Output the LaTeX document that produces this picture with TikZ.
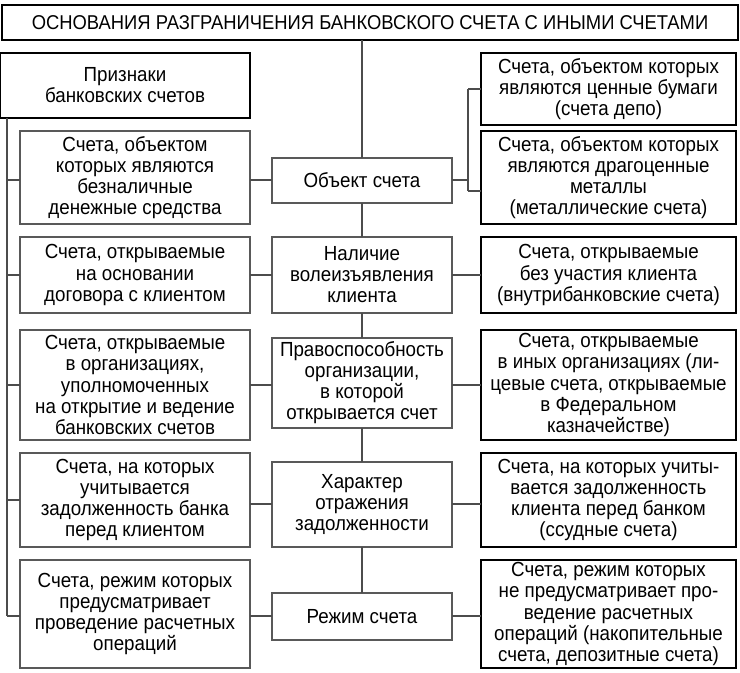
\documentclass[tikz,border=0pt]{standalone}
\usepackage{fontspec}
\setmainfont{Liberation Sans}[FakeStretch=0.92]
\begin{document}
\begin{tikzpicture}[x=0.75pt,y=-0.75pt,
  bx/.style={draw=black!65,line width=0.9pt},
  rb/.style={draw=black,line width=1pt},
  tx/.style={align=center,font=\fontsize{15.3}{15.8}\selectfont,inner sep=0pt},
  ln/.style={draw=black!70,line width=0.9pt}]
\useasboundingbox (0,0) rectangle (740,673);
% title
\draw[rb] (2,5) rectangle (738,40);
\node[tx,font=\fontsize{15}{16}\selectfont] (title) at (370,22.5) {ОСНОВАНИЯ РАЗГРАНИЧЕНИЯ БАНКОВСКОГО СЧЕТА С ИНЫМИ СЧЕТАМИ};
\coordinate (tb) at (362,40);
% left header
\draw[rb] (0,53) rectangle (250,118);
\node[tx] (pr) at (125,85.5) {Признаки\\банковских счетов};
% left boxes
\draw[bx] (20,131) rectangle (250,224);
\node[tx] (l1) at (135,177.5) {Счета, объектом\\которых являются\\безналичные\\денежные средства};
\draw[bx] (20,237) rectangle (250,313);
\node[tx] (l2) at (135,275) {Счета, открываемые\\на основании\\договора с клиентом};
\draw[bx] (20,330) rectangle (250,440);
\node[tx] (l3) at (135,385) {Счета, открываемые\\в организациях,\\уполномоченных\\на открытие и ведение\\банковских счетов};
\draw[bx] (20,453) rectangle (250,547);
\node[tx] (l4) at (135,500) {Счета, на которых\\учитывается\\задолженность банка\\перед клиентом};
\draw[bx] (20,560) rectangle (250,668);
\node[tx] (l5) at (135,614) {Счета, режим которых\\предусматривает\\проведение расчетных\\операций};
% middle boxes
\draw[bx] (272,158) rectangle (452,203);
\node[tx] (m1) at (362,180.5) {Объект счета};
\draw[bx] (272,237) rectangle (452,313);
\node[tx] (m2) at (362,275) {Наличие\\волеизъявления\\клиента};
\draw[bx] (272,338) rectangle (452,428);
\node[tx] (m3) at (362,383) {Правоспособность\\организации,\\в которой\\открывается счет};
\draw[bx] (272,462) rectangle (452,547);
\node[tx] (m4) at (362,504.5) {Характер\\отражения\\задолженности};
\draw[bx] (272,593) rectangle (452,640);
\node[tx] (m5) at (362,616.5) {Режим счета};
% right boxes
\draw[rb] (481,53) rectangle (736,125);
\node[tx] (r1a) at (608.5,89) {Счета, объектом которых\\являются ценные бумаги\\(счета депо)};
\draw[rb] (481,131) rectangle (736,224);
\node[tx] (r1b) at (608.5,177.5) {Счета, объектом которых\\являются драгоценные\\металлы\\(металлические счета)};
\draw[rb] (481,237) rectangle (736,313);
\node[tx] (r2) at (608.5,275) {Счета, открываемые\\без участия клиента\\(внутрибанковские счета)};
\draw[rb] (481,330) rectangle (736,440);
\node[tx] (r3) at (608.5,385) {Счета, открываемые\\в иных организациях (ли-\\цевые счета, открываемые\\в Федеральном\\казначействе)};
\draw[rb] (481,453) rectangle (736,547);
\node[tx] (r4) at (608.5,500) {Счета, на которых учиты-\\вается задолженность\\клиента перед банком\\(ссудные счета)};
\draw[rb] (481,560) rectangle (736,668);
\node[tx] (r5) at (608.5,614) {Счета, режим которых\\не предусматривает про-\\ведение расчетных\\операций (накопительные\\счета, депозитные счета)};
% connectors
\draw[ln] (tb) -- (362,158) (362,203) -- (362,237) (362,313) -- (362,338) (362,428) -- (362,462) (362,547) -- (362,593);
\draw[ln] (7,118) -- (7,616);
\draw[ln] (7,180) -- (20,180) (7,275) -- (20,275) (7,385) -- (20,385) (7,500) -- (20,500) (7,616) -- (20,616);
\draw[ln] (250,180) -- (272,180) (250,275) -- (272,275) (250,385) -- (272,385) (250,504) -- (272,504) (250,616) -- (272,616);
\draw[ln] (452,180) -- (468,180) (468,89) -- (468,191) (468,89) -- (481,89) (468,191) -- (481,191);
\draw[ln] (452,275) -- (481,275) (452,385) -- (481,385) (452,504) -- (481,504) (452,616) -- (481,616);
\end{tikzpicture}
\end{document}
